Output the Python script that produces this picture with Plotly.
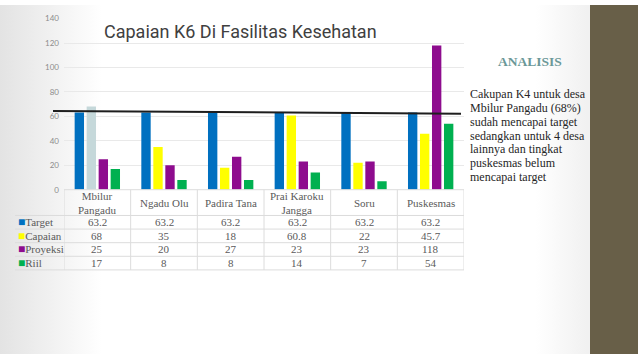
import base64
import plotly.graph_objects as go

# ---------------- data ----------------
CATEGORIES = ["Mbilur<br>Pangadu", "Ngadu Olu", "Padira Tana", "Prai Karoku<br>Jangga", "Soru", "Puskesmas"]
SERIES = ["Target", "Capaian", "Proyeksi", "Riil"]
TARGET = [63.2, 63.2, 63.2, 63.2, 63.2, 63.2]
CAPAIAN = [68, 35, 18, 60.8, 22, 45.7]
PROYEKSI = [25, 20, 27, 23, 23, 118]
RIIL = [17, 8, 8, 14, 7, 54]
Y_TICKS = [0, 20, 40, 60, 80, 100, 120, 140]
TARGET_LINE = [64.5, 62.1]  # hand-drawn reference line (left end, right end)

TITLE = "Capaian K6 Di Fasilitas Kesehatan"
SIDE_TITLE = "ANALISIS"
SIDE_LINES = [
    "Cakupan K4 untuk desa",
    "Mbilur Pangadu (68%)",
    "sudah mencapai target",
    "sedangkan untuk 4 desa",
    "lainnya dan tingkat",
    "puskesmas belum",
    "mencapai target",
]

# ---------------- styles ----------------
W, H = 638, 359
COLORS = {"Target": "#0070c0", "Capaian": "#ffff00", "Proyeksi": "#8e0c8e", "Riil": "#00b050"}
CAPAIAN_COLORS = ["#c5d8da"] + [COLORS["Capaian"]] * 5
SERIF = "Liberation Serif, Times New Roman, serif"
TXT = "#5a5a5a"


def fx(px):
    return px / W


def fy(py):
    return 1 - py / H


values = {"Target": TARGET, "Capaian": CAPAIAN, "Proyeksi": PROYEKSI, "Riil": RIIL}

fig = go.Figure()
for name in SERIES:
    color = CAPAIAN_COLORS if name == "Capaian" else COLORS[name]
    fig.add_trace(go.Bar(x=CATEGORIES, y=values[name], name=name,
                         marker=dict(color=color, line=dict(width=0)), showlegend=False))

# background gradient (slide) as svg image
svg = f'''<svg xmlns="http://www.w3.org/2000/svg" width="{W}" height="{H}">
<defs><linearGradient id="g" x1="0" y1="0" x2="1" y2="0">
<stop offset="0" stop-color="#e3e3e3"/><stop offset="0.16" stop-color="#ffffff"/>
<stop offset="0.84" stop-color="#ffffff"/><stop offset="0.92" stop-color="#f1f1f1"/>
</linearGradient></defs>
<rect width="{W}" height="{H}" fill="url(#g)"/></svg>'''
src = "data:image/svg+xml;base64," + base64.b64encode(svg.encode()).decode()

shapes = []
# dark side bar
shapes.append(dict(type="rect", xref="paper", yref="paper", x0=fx(590), x1=1.0, y0=0, y1=1,
                   fillcolor="#685f48", line=dict(width=0), layer="below"))
# target line
shapes.append(dict(type="line", xref="paper", yref="y", x0=fx(53), x1=fx(461),
                   y0=TARGET_LINE[0], y1=TARGET_LINE[1], line=dict(color="#1e1e1e", width=2), layer="above"))

# data table grid
GRID = "#dcdcdc"
row_lines = [216.5, 230.5, 244.5, 258.5, 272.5]
shapes.append(dict(type="line", xref="paper", yref="paper", x0=fx(64), x1=fx(464), y0=fy(190), y1=fy(190),
                   line=dict(color=GRID, width=1)))
for ry in row_lines:
    shapes.append(dict(type="line", xref="paper", yref="paper", x0=fx(15), x1=fx(464), y0=fy(ry), y1=fy(ry),
                       line=dict(color=GRID, width=1)))
for i in range(len(CATEGORIES) + 1):
    shapes.append(dict(type="line", xref="x", yref="paper", x0=i - 0.5, x1=i - 0.5, y0=fy(190), y1=fy(272.5),
                       line=dict(color=GRID, width=1)))

annotations = []
# title
annotations.append(dict(text=TITLE, xref="paper", yref="paper", x=fx(240), y=fy(27), showarrow=False,
                        xanchor="center", yanchor="middle",
                        font=dict(family="Roboto, sans-serif", size=18, color="#404040")))
# table header
for cat in CATEGORIES:
    annotations.append(dict(text=cat, xref="x", yref="paper", x=cat, y=fy(203.5), showarrow=False,
                            xanchor="center", yanchor="middle",
                            font=dict(family=SERIF, size=11, color=TXT)))
row_centers = [223.5, 237.5, 251.5, 265.5]
for name, ry in zip(SERIES, row_centers):
    annotations.append(dict(text=f'<span style="color:{COLORS[name]};font-size:12px">■</span>{name}',
                            xref="paper", yref="paper",
                            x=fx(15.5), y=fy(ry), showarrow=False, xanchor="left", yanchor="middle",
                            font=dict(family=SERIF, size=11, color=TXT)))
    for cat, v in zip(CATEGORIES, values[name]):
        annotations.append(dict(text=f"{v:g}", xref="x", yref="paper", x=cat, y=fy(ry), showarrow=False,
                                xanchor="center", yanchor="middle",
                                font=dict(family=SERIF, size=11, color=TXT)))
# side panel
annotations.append(dict(text=f"<b>{SIDE_TITLE}</b>", xref="paper", yref="paper", x=fx(529.5), y=fy(58),
                        showarrow=False, xanchor="center", yanchor="middle",
                        font=dict(family=SERIF, size=13.5, color="#6b9898")))
side_y = [91.7, 105.9, 120.1, 134.3, 148.5, 162.7, 176.9]
for line, ly in zip(SIDE_LINES, side_y):
    annotations.append(dict(text=line, xref="paper", yref="paper", x=fx(468), y=fy(ly), showarrow=False,
                            xanchor="left", yanchor="middle",
                            font=dict(family=SERIF, size=12, color="#262626")))

fig.update_layout(
    width=W, height=H,
    margin=dict(l=0, r=0, t=0, b=0),
    paper_bgcolor="white",
    plot_bgcolor="rgba(0,0,0,0)",
    barmode="group", bargap=0.28, bargroupgap=0.22,
    xaxis=dict(domain=[fx(64), fx(464)], range=[-0.5, 5.5], showticklabels=False, showgrid=False,
               zeroline=False, showline=False, fixedrange=True),
    yaxis=dict(domain=[fy(190), fy(14)], range=[0, 140], tickvals=Y_TICKS, showgrid=True,
               gridcolor="#e9e9e9", gridwidth=1, zeroline=False, showline=False,
               tickfont=dict(family="Lato, Open Sans, sans-serif", size=8, color="#8c8c8c"),
               ticklabelstandoff=4),
    shapes=shapes,
    annotations=annotations,
    images=[dict(source=src, xref="paper", yref="paper", x=0, y=1, sizex=1, sizey=1,
                 xanchor="left", yanchor="top", sizing="stretch", layer="below")],
)

fig.write_html("out.html", config={"displayModeBar": False},
               post_script="document.body.style.margin='0';document.body.style.padding='0';"
                           "document.body.style.overflow='hidden';")
